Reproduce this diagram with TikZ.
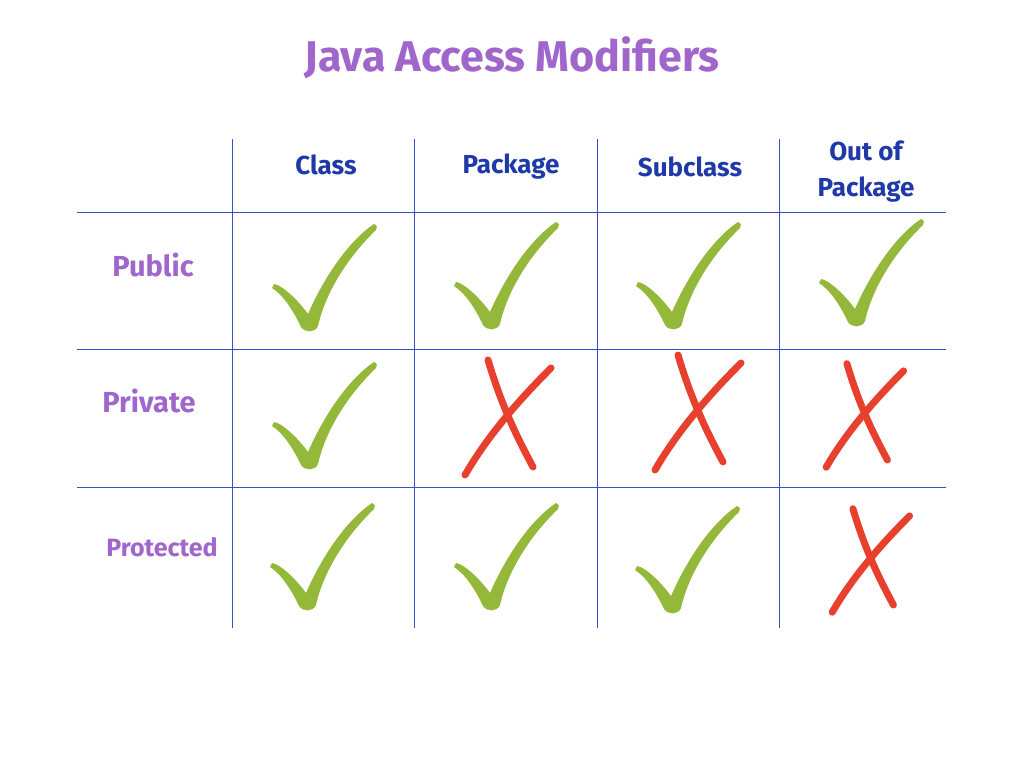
\documentclass[tikz,border=0pt]{standalone}
\usepackage{fontspec}
\setmainfont{Fira Sans}
\definecolor{ttl}{HTML}{A066CC}
\definecolor{hdr}{HTML}{1F3AA8}
\definecolor{grn}{HTML}{94B83A}
\definecolor{rd}{HTML}{E8402F}
\definecolor{ln}{HTML}{3A4FC8}
\begin{document}
\begin{tikzpicture}[x=1pt,y=-1pt,
  hd/.style={text=hdr,font=\bfseries\fontsize{26}{36}\selectfont,align=center},
  rl/.style={text=ttl,font=\bfseries\fontsize{29}{34}\selectfont},
  gl/.style={draw=ln,line width=0.7pt},
  tick/.pic={\fill[grn] (-36,-46) .. controls (-28,-45) and (-12,-30) .. (-2,-16)
     .. controls (15,-55) and (40,-90) .. (64,-106)
     .. controls (67,-105) and (68,-102) .. (66,-100)
     .. controls (35,-70) and (15,-35) .. (8,-4)
     .. controls (5,3) and (-5,3) .. (-9,-3)
     .. controls (-17,-20) and (-27,-35) .. (-38,-42) -- cycle;},
  cross/.pic={\draw[rd,line width=7pt,line cap=round] (-19,-57) .. controls (-5,-10) and (10,20) .. (26,50);
     \draw[rd,line width=7pt,line cap=round] (44,-49) .. controls (10,-15) and (-20,20) .. (-42,58);}]
\fill[white] (0,0) rectangle (1024,768);
\node[text=ttl,font=\bfseries\fontsize{43}{50}\selectfont] (t) at (512,58) {Java Access Modifiers};
\foreach \x in {232,414,597,779} \draw[gl] (\x,139) -- (\x,628);
\foreach \y in {212,349,487} \draw[gl] (77,\y) -- (946,\y);
\node[hd] (h1) at (326,165) {Class};
\node[hd] (h2) at (511,167) {Package};
\node[hd] (h3) at (690,167) {Subclass};
\node[hd] (h4) at (866,172) {Out of\\Package};
\node[rl] (r1) at (153,265) {Public};
\node[rl] (r2) at (149,401) {Private};
\node[rl,font=\bfseries\fontsize{25}{30}\selectfont] (r3) at (162,547) {Protected};
\pic at (310,330) {tick};
\pic at (492,328) {tick};
\pic at (674,328) {tick};
\pic at (857,325) {tick};
\pic at (310,468) {tick};
\pic at (308,609) {tick};
\pic at (492,609) {tick};
\pic at (673,612) {tick};
\pic at (507,417) {cross};
\pic at (697,412) {cross};
\pic[scale=0.9] at (864,415) {cross};
\pic[scale=0.9] at (870,560) {cross};
\end{tikzpicture}
\end{document}
